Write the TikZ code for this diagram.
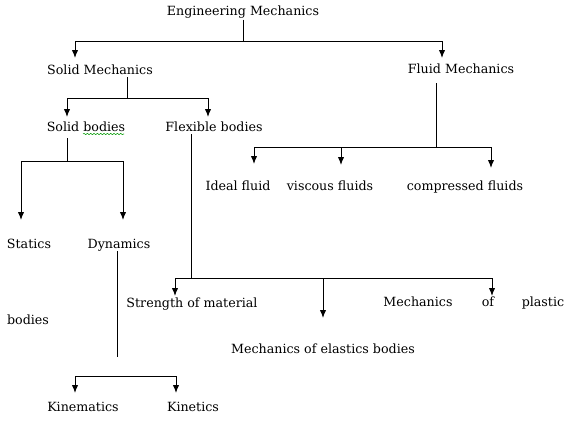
\documentclass[tikz,border=0pt]{standalone}
\usepackage{fontspec}
\setmainfont{DejaVu Serif}
\usetikzlibrary{arrows.meta,decorations.pathmorphing}
\tikzset{lbl/.style={anchor=base,inner sep=1pt,font=\fontsize{9.5}{11}\selectfont}}

\begin{document}
\begin{tikzpicture}[x=0.75pt,y=-0.75pt,>={Latex[length=6pt,width=4.8pt]},line width=0.75pt]
    \useasboundingbox (0,0) rectangle (578,446);

    \node[lbl] (em) at (243,15) {Engineering Mechanics};
    \node[lbl] (sm) at (100,74) {Solid Mechanics};
    \node[lbl] (fm) at (461,73) {Fluid Mechanics};
    \node[lbl] (sb) at (86,131) {Solid bodies};
    \node[lbl] (fb) at (214,131) {Flexible bodies};
    \node[lbl] (idf) at (238,190) {Ideal fluid};
    \node[lbl] (vf) at (330,190) {viscous fluids};
    \node[lbl] (cf) at (465,190) {compressed fluids};
    \node[lbl] (st) at (29,248) {Statics};
    \node[lbl] (dy) at (119,248) {Dynamics};
    \node[lbl] (som) at (192,307) {Strength of material};
    \node[lbl] (mp1) at (418,306) {Mechanics};
    \node[lbl] (mp2) at (488,306) {of};
    \node[lbl] (mp3) at (543,306) {plastic};
    \node[lbl] (mp4) at (28,324) {bodies};
    \node[lbl] (meb) at (323,353) {Mechanics of elastics bodies};
    \node[lbl] (km) at (83,411) {Kinematics};
    \node[lbl] (kt) at (193,411) {Kinetics};

    % spelling squiggle under bodies
    \draw[green!60!black,line width=0.4pt,decorate,decoration={snake,amplitude=0.5pt,segment length=2.5pt}] (83,134) -- (124,134);

    % engineering mechanics
    \coordinate (a0) at (243,41);
    \coordinate (a1) at (75,58);
    \coordinate (a2) at (442,58);
    \draw (a0 |- em.south) -- (a0);
    \draw[->] (a0) -| (a1);
    \draw[->] (a0) -| (a2);

    % solid mechanics
    \coordinate (b) at (127,77);
    \coordinate (b0) at (127,98);
    \coordinate (b1) at (67,117);
    \coordinate (b2) at (208,117);
    \draw (b) -- (b0);
    \draw[->] (b0) -| (b1);
    \draw[->] (b0) -| (b2);

    % fluid mechanics
    \coordinate (c) at (436,83);
    \coordinate (c0) at (436,147);
    \coordinate (c1) at (254,164);
    \coordinate (c2) at (341,165);
    \coordinate (c3) at (491,168);
    \draw (c) -- (c0);
    \draw[->] (c0) -| (c1);
    \draw[->] (c2 |- c0) -- (c2);
    \draw[->] (c0) -| (c3);

    % solid bodies
    \coordinate (d) at (67,138);
    \coordinate (d0) at (67,161);
    \coordinate (d1) at (21,220);
    \coordinate (d2) at (123,220);
    \draw (d) -- (d0);
    \draw[->] (d0) -| (d1);
    \draw[->] (d0) -| (d2);

    % flexible bodies
    \coordinate (e) at (191,134);
    \coordinate (e0) at (191,278);
    \coordinate (e1) at (175,296);
    \coordinate (e2) at (323,318);
    \coordinate (e3) at (492,296);
    \draw (e) -- (e0);
    \draw[->] (e0) -| (e1);
    \draw[->] (e2 |- e0) -- (e2);
    \draw[->] (e0) -| (e3);

    % dynamics
    \coordinate (f) at (117,251);
    \coordinate (f0) at (117,357);
    \coordinate (g0) at (125,376);
    \coordinate (g1) at (75,393);
    \coordinate (g2) at (176,393);
    \draw (f) -- (f0);
    \draw[<->] (g1) -- (g1 |- g0) -- (g2 |- g0) -- (g2);
\end{tikzpicture}
\end{document}
